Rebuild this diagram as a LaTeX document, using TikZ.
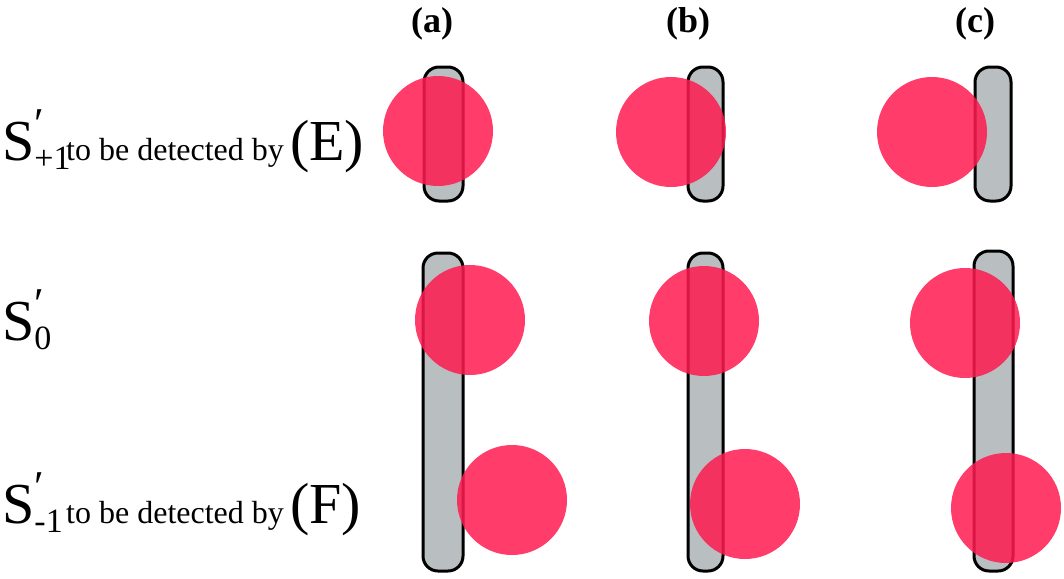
\documentclass[tikz,border=0pt]{standalone}
\usepackage{fontspec}
\setmainfont{Liberation Serif}
\newfontfamily\tnr{Liberation Serif}
\newcommand{\primesub}[1]{\makebox[0pt][l]{\raisebox{22pt}{\fontsize{44}{44}\selectfont\tnr ′}}\raisebox{-9pt}{\fontsize{34}{34}\selectfont\tnr #1}}
\begin{document}
\begin{tikzpicture}[x=1pt,y=-1pt,
  bar/.style={draw=black,line width=3pt,fill=barg,rounded corners=15pt},
  ball/.style={circle,fill=ballr,fill opacity=0.85,inner sep=0pt,minimum size=110pt},
  big/.style={font=\tnr\fontsize{58}{60}\selectfont,anchor=base west,inner sep=0pt},
  small/.style={font=\tnr\fontsize{32}{34}\selectfont,anchor=base west,inner sep=0pt},
  head/.style={font=\tnr\bfseries\fontsize{36}{38}\selectfont,inner sep=0pt}]
\definecolor{barg}{HTML}{B9BEC1}
\definecolor{ballr}{HTML}{FF1A50}
\useasboundingbox (0,0) rectangle (1064,578);
% headers
\node[head] (ha) at (432,24) {(a)};
\node[head] (hb) at (688,24) {(b)};
\node[head] (hc) at (975,24) {(c)};
% labels
\node[big] (l1) at (2,160) {S\primesub{+1}};
\node[small] (t1) at (66,160) {to be detected by};
\node[big] (e1) at (290,160) {(E)};
\node[big] (l2) at (2,340) {S\primesub{0}};
\node[big] (l3) at (2,523) {S\primesub{-1}};
\node[small] (t3) at (66,523) {to be detected by};
\node[big] (e3) at (290,523) {(F)};
% bars
\draw[bar] (424,67) rectangle (463,201);
\draw[bar] (688,67) rectangle (723,201);
\draw[bar] (975,67) rectangle (1011,201);
\draw[bar] (423,253) rectangle (463,571);
\draw[bar] (688,253) rectangle (723,571);
\draw[bar] (974,251) rectangle (1013,571);
% balls
\node[ball] (a1) at (438,131) {};
\node[ball] (b1) at (671,132) {};
\node[ball] (c1) at (932,132) {};
\node[ball] (a2) at (470,320) {};
\node[ball] (b2) at (704,321) {};
\node[ball] (c2) at (965,323) {};
\node[ball] (a3) at (512,500) {};
\node[ball] (b3) at (745,504) {};
\node[ball] (c3) at (1006,508) {};
\end{tikzpicture}
\end{document}
